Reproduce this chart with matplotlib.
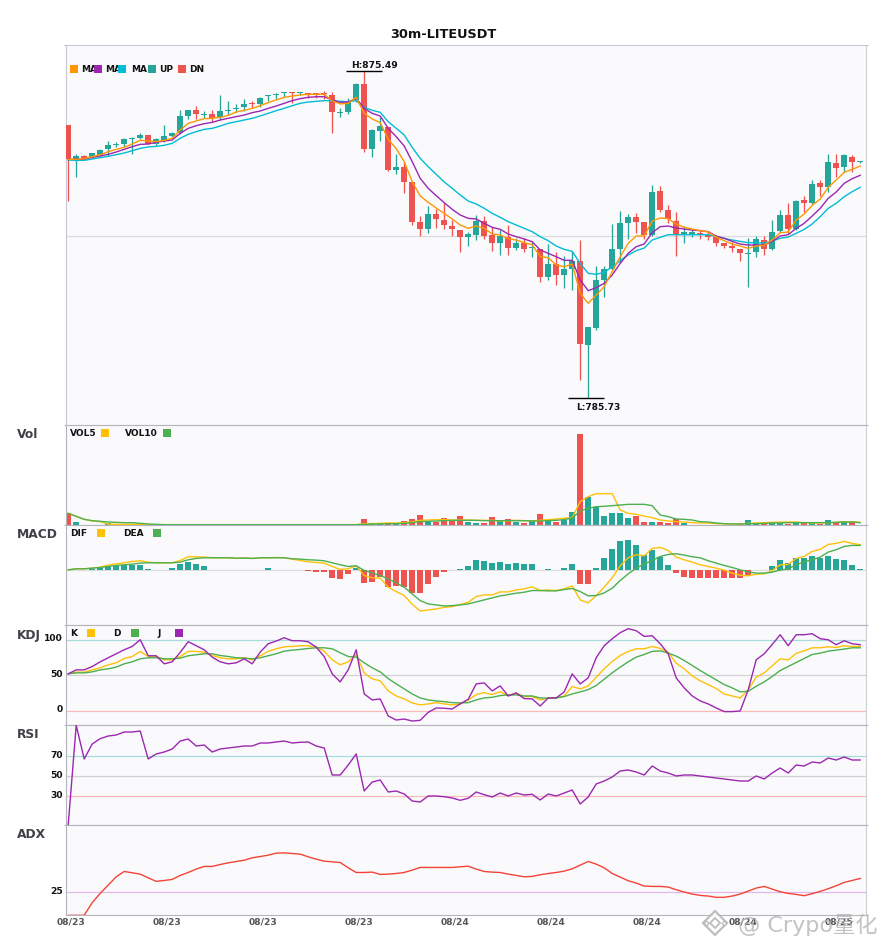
import matplotlib
matplotlib.use("Agg")
import matplotlib.pyplot as plt
import numpy as np
from matplotlib.patches import Rectangle
from matplotlib.lines import Line2D

plt.rcParams['font.family'] = ['DejaVu Sans', 'Noto Sans CJK SC']

title = "30m-LITEUSDT"
date_labels = ["08/23", "08/23", "08/23", "08/23", "08/24", "08/24", "08/24", "08/24", "08/25"]
date_ticks = [0, 12, 24, 36, 48, 60, 72, 84, 96]
high_price = 875.49
low_price = 785.73
mid_price = 830.4

opens = [860.75,851.32,852.15,851.87,852.60,854.16,855.26,855.53,857.0,857.18,858.0,855.53,856.45,857.73,858.46,863.22,864.87,863.49,863.77,862.94,864.59,865.14,865.69,866.51,866.60,868.62,868.89,869.44,869.53,869.53,869.44,869.44,869.26,868.98,
864.14,864.32,867.62,872.01,854.26,859.10,860.20,848.49,849.13,845.11,834.13,832.20,836.32,834.67,833.03,831.93,830.01,830.56,834.40,830.56,828.36,830.01,826.99,828.36,826.90,826.72,819.03,822.60,819.58,821.22,
823.41,800.45,805.02,818.20,821.22,826.71,833.85,835.49,834.12,830.55,842.63,837.41,834.39,830.83,830.55,831.10,830.55,830.0,828.36,827.53,826.71,825.43,825.89,829.18,826.71,831.65,836.04,832.20,840.16,839.34,844.83,843.73,850.32,849.22,851.96,850.68]
closes = [851.32,852.24,851.60,852.97,853.88,855.26,855.44,856.90,857.09,858.0,855.53,856.81,857.64,858.55,863.22,864.87,863.77,863.58,862.67,864.59,864.68,865.5,866.51,866.42,868.16,868.71,868.98,869.53,869.44,869.62,869.35,869.35,869.17,864.32,
864.23,867.16,872.01,854.26,859.38,860.48,848.49,849.13,845.11,834.22,832.20,836.32,834.95,833.30,832.20,830.01,830.83,834.40,830.28,828.36,830.28,826.99,828.36,826.72,826.99,819.03,822.60,819.58,821.22,823.42,
800.72,805.30,818.20,821.22,826.71,833.85,835.49,834.12,830.55,842.36,837.41,834.94,830.83,831.38,831.38,830.83,830.0,828.36,827.53,826.98,825.61,825.52,829.45,826.71,831.38,836.04,832.20,839.88,839.34,844.55,843.73,850.59,848.95,852.51,850.59,850.77]
highs = [860.75,852.79,852.42,852.97,854.25,856.26,856.08,857.18,857.45,858.55,858.0,857.09,860.84,858.73,864.87,864.87,865.96,864.50,864.87,868.98,867.33,866.51,867.88,867.33,868.34,868.98,869.53,869.81,869.81,869.90,869.44,869.44,870.08,869.81,
865.33,868.16,872.28,875.49,859.75,862.86,860.20,852.79,850.60,845.11,835.77,838.52,837.70,839.34,834.67,831.93,831.38,836.05,835.77,832.75,831.93,833.30,829.73,829.73,828.64,826.72,828.09,825.89,824.79,826.17,
829.18,805.30,822.04,822.04,833.57,837.14,836.32,836.59,834.12,844.28,844.0,838.79,836.87,833.02,832.20,831.92,831.65,830.28,828.36,828.63,826.71,829.73,830.28,830.28,834.67,837.41,839.34,840.16,841.26,845.65,845.65,852.79,852.79,852.79,852.51,850.77]
lows = [839.89,846.57,851.32,851.60,852.24,852.24,854.62,854.62,852.79,856.81,855.44,855.17,856.08,857.55,858.28,862.40,862.40,862.67,861.48,862.12,863.49,864.32,864.68,865.41,865.69,867.33,867.88,868.43,866.79,868.89,868.16,868.16,867.88,858.55,
863.04,863.77,867.16,853.43,852.06,856.36,848.12,847.30,842.09,833.30,830.28,831.20,832.48,832.20,830.28,825.89,827.54,829.18,829.46,826.17,825.07,825.07,826.44,825.89,824.52,817.66,818.20,816.83,816.01,815.46,
790.75,785.73,804.47,813.53,820.95,822.77,829.45,831.10,829.45,830.28,836.87,833.85,824.79,828.36,830.0,829.45,829.18,827.53,826.98,825.89,823.41,816.28,824.51,825.06,826.43,831.38,830.83,831.92,836.87,839.06,841.26,842.36,846.47,847.85,847.85,850.32]
ma5 = [851.32,851.32,851.51,852.05,852.60,853.43,854.07,854.62,855.53,856.54,856.35,856.17,856.54,857.09,859.38,861.2,861.85,862.49,862.58,862.85,863.40,864.32,864.77,865.32,866.05,866.88,867.61,868.34,868.71,868.98,869.17,869.17,869.17,867.4,
866.52,866.70,868.35,863.95,862.40,861.39,856.82,854.26,850.69,845.20,841.26,839.52,837.97,836.50,834.95,833.30,832.39,833.03,832.39,830.83,830.56,829.55,829.18,828.45,827.90,
824.60,824.33,822.32,821.86,822.59,814.54,811.80,814.08,816.37,820.49,824.60,828.27,830.28,830.28,834.39,835.22,835.04,833.57,832.66,832.20,831.74,831.38,830.0,828.99,828.08,827.53,826.89,827.53,827.72,829.18,831.19,831.38,834.67,836.32,838.70,840.43,843.64,845.65,847.75,848.58,849.49]
ma10 = [851.32,851.32,851.41,851.87,852.24,852.70,853.34,854.07,854.80,855.44,855.53,855.99,856.35,856.63,858.46,859.83,860.56,861.11,861.48,862.12,862.58,863.04,863.49,864.13,864.59,865.32,865.96,866.70,867.43,867.98,868.34,868.52,868.52,
867.62,866.98,867.07,868.07,865.33,863.95,863.22,859.84,857.55,854.99,850.69,846.11,843.37,841.35,839.43,837.60,836.05,835.13,834.95,833.76,832.66,832.11,830.83,830.10,829.46,828.73,
826.43,825.52,824.60,823.60,823.60,818.20,815.27,816.10,817.28,819.57,822.77,825.52,827.35,828.08,831.19,832.84,833.02,832.47,832.20,831.92,831.74,831.47,830.28,829.64,828.81,828.08,827.81,827.81,827.81,828.81,830.28,830.64,832.38,833.76,835.77,837.87,840.62,842.36,844.73,846.02,846.93]
ma20 = [851.14,851.05,851.05,851.41,851.78,852.15,852.60,853.06,853.70,854.34,854.71,854.89,855.17,855.72,857.09,858.19,858.92,859.56,859.83,860.47,861.20,861.66,862.12,862.58,863.22,863.95,864.68,865.32,866.05,866.70,867.06,867.24,867.43,
867.43,867.25,867.16,867.43,865.60,864.78,864.23,861.67,859.84,858.01,854.62,851.60,849.32,847.21,845.11,843.37,841.54,839.89,839.07,837.88,836.50,835.41,834.22,833.30,832.39,831.47,
830.10,828.99,827.53,826.62,826.07,822.77,820.03,819.76,820.30,821.86,823.51,825.06,826.25,826.98,829.18,829.91,830.64,830.64,830.64,830.64,830.64,830.64,830.10,829.64,829.18,828.81,828.45,828.45,828.36,828.91,829.64,830.0,831.01,832.11,833.57,835.58,837.87,839.25,841.07,842.45,843.64]

volume = [350,80,10,10,10,50,10,10,30,10,10,10,10,10,40,10,10,10,10,10,10,10,10,10,10,10,10,10,10,10,10,10,10,30,10,10,10,170,30,40,30,30,130,190,310,90,80,200,110,260,80,50,50,230,110,170,80,50,140,320,110,100,140,400,2720,830,550,280,350,350,200,280,100,100,90,70,170,60,10,10,10,10,10,10,30,160,40,20,80,70,40,60,50,50,30,160,100,130,80,10]
vol5 = [350,260,170,120,100,30,20,20,20,20]+[10]*27+[40,40,50,60,60,70,90,140,150,160,160,150,150,150,140,140,140,120,130,140,130,120,140,160,180,200,220,700,850,940,940,940,450,350,320,270,220,150,120,100,90,70,60,60,40,30,30,30,50,60,70,80,90,90,90,70,60,60,70,80,90,100,80]
vol10 = [350,260,170,130,110,90,80,70,70,50,30,20]+[10]*25+[20,30,30,40,40,50,70,100,110,120,130,140,140,140,140,130,130,130,130,130,130,120,120,130,140,160,210,420,500,550,560,580,600,620,620,620,580,300,250,180,170,150,100,90,60,40,30,30,40,40,50,60,60,70,70,70,70,70,70,80,90,90,70]

dif = [0,.3,.3,.5,.8,1.4,1.8,2.1,2.5,2.7,2.3,2.1,2.1,2.1,2.8,3.9,3.9,3.8,3.6,3.6,3.6,3.4,3.6,3.4,3.6,3.6,3.7,3.6,3.2,2.8,2.4,2.2,2.0,1.0,0.1,0.3,1.2,-1.7,-2.4,-2.5,-5.2,-6.5,-7.7,-10.3,-12.3,-12.0,-11.7,-11.2,-11.0,
-10.4,-9.7,-8.0,-7.5,-7.5,-6.6,-6.6,-6.0,-5.7,-5.1,-6.2,-6.0,-6.2,-5.7,-4.8,-9.0,-9.9,-7.7,-5.2,-2.4,1.2,3.6,4.5,4.2,6.4,6.7,5.8,3.8,3.0,2.3,1.5,1.0,0.5,-0.1,-1.0,-1.6,-1.8,-1.3,-1.2,-0.2,1.5,1.6,3.4,4.0,5.5,6.1,7.6,7.9,8.5,7.9,7.5]
dea = [0,.3,.3,.5,.7,1.0,1.3,1.5,1.7,2.0,2.1,2.1,2.1,2.1,2.3,3.0,3.4,3.6,3.6,3.6,3.6,3.5,3.5,3.4,3.6,3.6,3.6,3.6,3.3,3.2,3.0,2.9,2.7,2.1,1.5,1.0,1.2,-0.2,-0.9,-1.7,-2.7,-3.9,-5.2,-7.2,-9.2,-10.2,-10.5,-10.8,-10.7,
-10.5,-10.2,-9.6,-9.0,-8.4,-7.8,-7.4,-7.0,-6.7,-6.2,-6.2,-6.3,-6.3,-5.9,-5.6,-6.5,-7.8,-7.7,-6.9,-5.5,-3.2,-1.2,0.5,1.7,2.8,4.0,4.6,4.8,4.4,3.9,3.6,2.7,2.0,1.3,0.7,0,-0.6,-1.0,-1.0,-0.7,-0.1,0.3,1.5,2.4,3.0,3.8,5.3,6.0,7.0,7.3,7.3]
macd_hist = [0,0,0,.1,.6,1.2,1.2,1.5,1.3,1.3,.3,0,0,.4,1.6,2.2,1.6,1.0,0,0,0,0,0,0,0,.4,0,0,-.2,-.2,-.5,-.7,-.8,-2.3,-2.6,-1.4,.5,-3.8,-3.5,-2.2,-5.0,-4.7,-5.0,-6.8,-6.8,-4.1,-2.0,-.8,0,
.3,1.2,3.0,2.7,2.1,2.4,1.8,2.1,1.8,1.8,-.2,.3,0,.6,1.8,-4.1,-4.1,.6,3.6,6.3,8.7,9.0,7.5,4.5,6.0,3.9,1.5,-1.1,-2.0,-2.3,-2.3,-2.3,-2.3,-2.3,-2.3,-2.3,-1.7,-.2,-.2,1.2,3.0,2.1,3.6,3.6,4.2,3.6,4.2,3.3,3.0,1.4,.3]

k_line = [52.1,54.5,54.5,57.7,60.6,64.8,67.6,73.7,76.5,83.6,76.5,76.5,71.8,71.8,76.5,83.6,83.6,82.6,77.9,74.7,73.2,73.2,74.7,71.8,77.5,83.6,87.3,90.1,90.6,91.6,91.6,89.7,84.0,71.8,64.8,69.0,79.3,53.5,45.1,42.3,28.2,21.1,16.9,11.3,8.5,9.9,11.7,9.9,8.5,
9.9,15.5,23.0,25.8,23.0,27.2,21.1,24.9,20.2,20.2,15.5,18.3,18.3,21.1,34.3,31.0,35.2,47.4,59.2,69.5,77.9,83.6,87.3,87.3,90.6,87.8,82.6,67.1,59.2,49.3,42.3,37.1,31.5,23.9,21.1,18.3,29.6,47.4,53.5,63.4,73.2,71.8,80.8,84.5,88.7,88.7,90.1,89.2,91.6,90.6,90.6]
d_line = [52.1,53.5,53.5,54.9,57.7,59.2,61.5,66.2,69.0,73.2,74.7,74.7,73.2,73.2,74.2,77.5,78.9,80.3,80.3,77.9,76.5,74.7,74.2,73.2,74.7,77.5,80.3,84.0,85.4,86.4,87.8,88.7,88.7,87.3,81.7,76.5,75.6,67.6,60.6,54.9,45.5,38.0,31.0,23.9,18.3,15.5,14.1,13.1,11.7,
11.3,11.7,15.5,18.3,19.2,21.6,22.5,22.5,21.1,21.1,18.3,17.8,18.3,20.2,23.9,26.8,30.0,35.7,44.6,53.5,61.5,69.0,75.6,79.3,83.6,84.5,81.2,77.0,70.9,63.9,56.8,50.2,43.7,37.1,32.4,26.8,27.7,34.7,40.8,48.4,56.8,62.4,68.1,73.7,79.3,81.2,84.0,85.4,86.9,88.7,88.7]
j_line = [52.1,57.7,57.7,62.4,69.0,74.7,80.3,85.9,90.6,100.0,77.5,77.5,66.2,69.0,82.2,97.2,91.6,85.9,75.6,69.0,66.2,67.6,73.2,66.2,82.6,94.4,98.1,102.8,98.6,98.6,97.2,89.7,76.5,52.1,40.8,57.7,85.9,23.9,15.5,16.9,-7.0,-12.7,-11.3,-14.1,-13.1,-1.9,4.2,3.8,2.8,
9.9,16.4,38.0,39.4,28.2,35.2,21.1,25.4,17.4,16.9,7.0,18.3,18.3,26.8,52.1,38.0,46.5,74.7,91.6,101.4,109.9,115.5,112.7,104.7,105.6,94.4,80.3,46.5,32.4,21.1,14.1,9.9,4.2,-0.9,-0.9,0,29.6,71.8,80.3,93.4,107.0,91.6,107.0,107.0,108.5,101.4,100.0,93.0,98.6,94.4,93.0]

rsi = [1.0,100.7,67.0,82.0,87.3,90.0,91.0,94.0,94.0,95.0,67.0,72.0,74.0,77.0,85.0,87.0,80.0,81.0,74.0,77.0,78.0,79.0,80.0,80.0,83.0,83.0,84.0,85.0,83.0,83.7,84.0,80.0,78.0,51.0,51.0,61.0,72.0,35.0,44.0,46.0,34.0,35.0,32.0,25.0,24.0,30.0,30.0,29.3,28.0,
25.7,27.7,34.0,31.3,29.0,33.0,30.0,33.0,31.0,31.7,26.0,32.0,30.0,33.0,36.0,22.0,29.0,42.0,45.0,49.0,55.0,56.0,54.0,51.0,60.0,55.0,53.0,50.0,51.0,51.0,50.0,49.0,48.0,47.0,46.0,45.0,45.0,50.0,47.0,53.0,58.0,53.0,61.0,60.0,64.0,63.0,68.0,66.0,69.0,66.0,66.0]

adx = [0,0,0,13.8,23.9,33.0,42.0,47.8,46.4,44.9,40.9,37.0,38.0,39.1,43.5,46.7,50.4,53.3,53.3,55.4,57.2,58.7,60.1,62.7,64.1,65.6,67.8,68.1,67.4,66.7,63.8,61.2,59.1,58.3,57.6,51.8,46.7,46.7,47.1,44.6,44.9,45.6,46.7,49.3,52.2,52.2,52.2,52.2,52.2,52.9,53.6,50.4,47.8,47.1,46.7,44.9,43.5,42.0,42.4,44.2,45.6,46.7,48.2,50.7,54.7,58.7,55.8,51.8,45.6,41.7,37.7,35.1,31.9,31.5,31.5,30.8,27.9,25.4,23.2,21.7,21.0,19.6,19.6,21.0,23.2,26.4,29.7,31.5,28.6,25.7,23.9,22.8,21.4,23.6,26.1,29.0,32.2,35.9,38.0,40.2]

for _arr in (opens, closes, highs, lows, ma5, ma10, ma20, volume, vol5, vol10, dif, dea, macd_hist, k_line, d_line, j_line, rsi, adx):
    assert len(_arr) == 100, len(_arr)

W, H = 885, 950
UP, DN = "#26A69A", "#EF5350"
ORANGE, PURPLE, CYAN = "#FF9800", "#9C27B0", "#00BCD4"
YEL, GRN = "#FFC107", "#4CAF50"
BG = "#FAFAFD"
LEFT, RIGHT = 65.5, 865.5
idx = np.arange(100)
XL = (-(68.2 - LEFT) / 8, (RIGHT - 68.2) / 8)

fig = plt.figure(figsize=(W / 100, H / 100), dpi=100, facecolor="white")

def panel(top, bottom, ylim, spine="#B4B4BC"):
    ax = fig.add_axes([LEFT / W, 1 - bottom / H, (RIGHT - LEFT) / W, (bottom - top) / H], facecolor=BG)
    ax.set_xlim(*XL)
    ax.set_ylim(*ylim)
    ax.set_xticks([])
    ax.set_yticks([ylim[1]])
    ax.set_yticklabels([""])
    ax.tick_params(axis="y", left=True, right=True, length=1.5, width=0.7, color="#B4B4BC", pad=0)
    for s in ax.spines.values():
        s.set_color(spine)
        s.set_linewidth(0.8)
    ax.spines['right'].set_color("#CFCFD8")
    return ax

def name(y, s):
    fig.text(17 / W, 1 - y / H, s, fontsize=8.8, fontweight="bold", color="#404048", va="center", ha="left")

def legend_items(y, items, size=6.5):
    for label, tx, sq_x, col in items:
        fig.text(tx / W, 1 - y / H, label, fontsize=size, fontweight="bold", color="#111111", va="center", ha="left", zorder=3)
        fig.patches.append(Rectangle((sq_x / W, 1 - (y + 4) / H), 8 / W, 8 / H, transform=fig.transFigure, facecolor=col, edgecolor="none", zorder=4))

LW = 1.0

# main panel
ax = panel(45, 425, (778.40, 882.71), spine="#C8C8D4")
ax.axhline(mid_price, color="#DDDDDD", lw=0.9, zorder=1)
for i in idx:
    c = UP if closes[i] >= opens[i] else DN
    ax.vlines(i, lows[i], highs[i], color=c, lw=0.95, zorder=2)
    top, bot = max(opens[i], closes[i]), min(opens[i], closes[i])
    ax.bar(i, max(top - bot, 0.28), bottom=bot, width=0.74, color=c, zorder=3, linewidth=0)
ax.plot(idx, ma20, color=CYAN, lw=LW, zorder=4)
ax.plot(idx, ma10, color=PURPLE, lw=LW, zorder=5)
ax.plot(idx, ma5, color=ORANGE, lw=LW, zorder=6)
hi_i = int(np.argmax(highs)); lo_i = int(np.argmin(lows))
ax.hlines(high_price, hi_i - 2.25, hi_i + 2.25, color="black", lw=1.0, zorder=7)
ax.hlines(low_price, lo_i - 2.5, lo_i + 2.0, color="black", lw=1.0, zorder=7)
ax.annotate(f"H:{high_price:.2f}", (hi_i, high_price), xytext=(10.5, 6.2), textcoords="offset pixels",
            fontsize=6.6, fontweight="bold", ha="center", va="center", color="#111111", zorder=8)
ax.annotate(f"L:{low_price:.2f}", (lo_i, low_price), xytext=(10, -9), textcoords="offset pixels",
            fontsize=6.5, fontweight="bold", ha="center", va="center", color="#111111", zorder=8)
legend_items(69, [("MA", 81, 70, ORANGE), ("MA", 105, 94, PURPLE), ("MA", 131, 118, CYAN),
                  ("UP", 159, 148, UP), ("DN", 189, 178, DN)])

# volume
ax = panel(425, 525, (0, 3000))
ax.bar(idx, volume, width=0.74, color=[UP if closes[i] >= opens[i] else DN for i in idx], linewidth=0, zorder=2)
ax.plot(idx, vol5, color=YEL, lw=LW, zorder=3)
ax.plot(idx, vol10, color=GRN, lw=LW, zorder=4)
name(435, "Vol")
legend_items(433.2, [("VOL5", 70, 101, YEL), ("VOL10", 125, 163, GRN)])

# MACD
ax = panel(525, 625, (-16.5, 13.4))
ax.axhline(0, color="#DDDDDD", lw=0.9, zorder=1)
ax.bar(idx, macd_hist, width=0.74, color=[UP if v >= 0 else DN for v in macd_hist], linewidth=0, zorder=2)
ax.plot(idx, dif, color=YEL, lw=LW, zorder=3)
ax.plot(idx, dea, color=GRN, lw=LW, zorder=4)
name(535, "MACD")
legend_items(533.2, [("DIF", 70, 97, YEL), ("DEA", 123, 153, GRN)])

def guides(ax, rows):
    for val, col in rows:
        ax.axhline(val, color=col, lw=0.9, zorder=1)
        ax.annotate(str(val), (XL[0], val), xycoords="data", xytext=(-1.7, 0.7), textcoords="offset points",
                    fontsize=6.6, fontweight="bold", ha="right", va="center", color="#111111", annotation_clip=False)

TEAL_L, GREY_L, PINK_L = "#A8DCDC", "#D2D2D2", "#FFB8B8"

# KDJ
ax = panel(625, 725, (-19.7, 120.7))
guides(ax, [(100, TEAL_L), (50, GREY_L), (0, PINK_L)])
ax.plot(idx, k_line, color=YEL, lw=LW, zorder=3)
ax.plot(idx, d_line, color=GRN, lw=LW, zorder=4)
ax.plot(idx, j_line, color=PURPLE, lw=LW, zorder=5)
name(635, "KDJ")
legend_items(633.2, [("K", 70, 87, YEL), ("D", 113, 131, GRN), ("J", 157, 175, PURPLE)])

# RSI
ax = panel(725, 825, (1, 101))
guides(ax, [(70, TEAL_L), (50, GREY_L), (30, PINK_L)])
ax.plot(idx, rsi, color=PURPLE, lw=LW, zorder=5)
name(735, "RSI")

# ADX
ax = panel(825, 915.3, (0, 98.5))
guides(ax, [(25, "#E2B8EA")])
ax.plot(idx, adx, color="#F44336", lw=LW, zorder=5)
name(835, "ADX")
ax.set_xticks([t + 0.29 for t in date_ticks])
ax.set_xticklabels(date_labels, fontsize=6.6, fontweight="bold", color="#555555")
ax.tick_params(axis="x", length=0, pad=1.5)

fig.suptitle(title, x=443.5 / W, y=1 - 34.5 / H, fontsize=9.3, fontweight="bold", va="center", color="#111111")

# watermark
WM = "#B4B4B4"
fig.text(738 / W, 1 - 924.5 / H, "@ Crypo量化", fontsize=16, color=WM, alpha=0.8, va="center", ha="left", zorder=10,
         family=['DejaVu Sans', 'Noto Sans CJK SC'])
for mx, my, ms, lw in [(715, 923, 12.5, 1.6), (715, 923, 5, 1.4), (706, 923, 2.5, 1.0), (724, 923, 2.5, 1.0)]:
    fig.add_artist(Line2D([mx / W], [1 - my / H], transform=fig.transFigure, marker="D", markersize=ms,
                          markerfacecolor="white", markeredgecolor=WM, markeredgewidth=lw, alpha=0.85, zorder=9))

fig.savefig("out.png", dpi=100, facecolor="white")
